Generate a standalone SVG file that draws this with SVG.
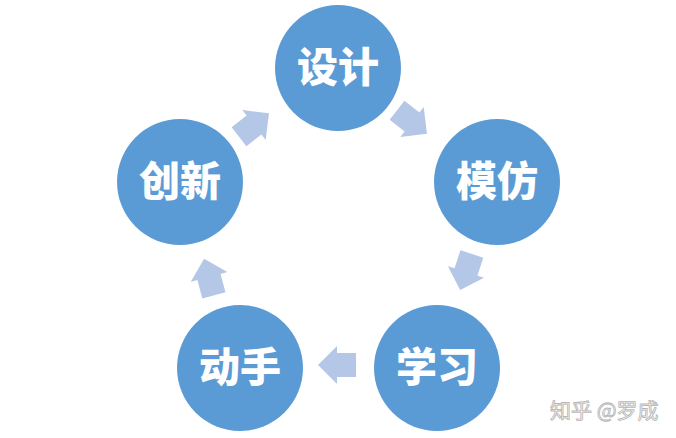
<svg xmlns="http://www.w3.org/2000/svg" width="676" height="438" viewBox="0 0 676 438">
<style>
.c{fill:#5B9BD5}
.t{fill:#fff;font-family:"Noto Sans CJK SC","Noto Sans CJK JP",sans-serif;font-weight:900;font-size:41px;text-anchor:middle}
.a{fill:#B4C7E7}
.w{fill:#fff;stroke:#b8b8b8;stroke-width:0.9;font-family:"Noto Sans CJK SC",sans-serif;font-size:21px}
</style>
<defs>
<path id="arr" d="M-19,-12 L0,-12 L0,-19 L19,0 L0,19 L0,12 L-19,12 Z"/>
</defs>
<rect width="676" height="438" fill="#fff"/>
<g id="connectors">
<use href="#arr" class="a" transform="translate(412,122) rotate(38)"/>
<use href="#arr" class="a" transform="translate(466,272) rotate(108)"/>
<use href="#arr" class="a" transform="translate(337,365) rotate(180)"/>
<use href="#arr" class="a" transform="translate(209,277) rotate(-105)"/>
<use href="#arr" class="a" transform="translate(254,125) rotate(-38)"/>
</g>
<g id="n1"><circle class="c" cx="338" cy="68" r="63"/><text class="t" x="338" y="82">设计</text></g>
<g id="n2"><circle class="c" cx="497" cy="182" r="63"/><text class="t" x="497" y="196">模仿</text></g>
<g id="n3"><circle class="c" cx="437" cy="368" r="63"/><text class="t" x="437" y="382">学习</text></g>
<g id="n4"><circle class="c" cx="240" cy="368" r="63"/><text class="t" x="240" y="382">动手</text></g>
<g id="n5"><circle class="c" cx="180" cy="182" r="63"/><text class="t" x="180" y="196">创新</text></g>
<text class="w" x="550" y="418">知乎 @罗成</text>
</svg>
